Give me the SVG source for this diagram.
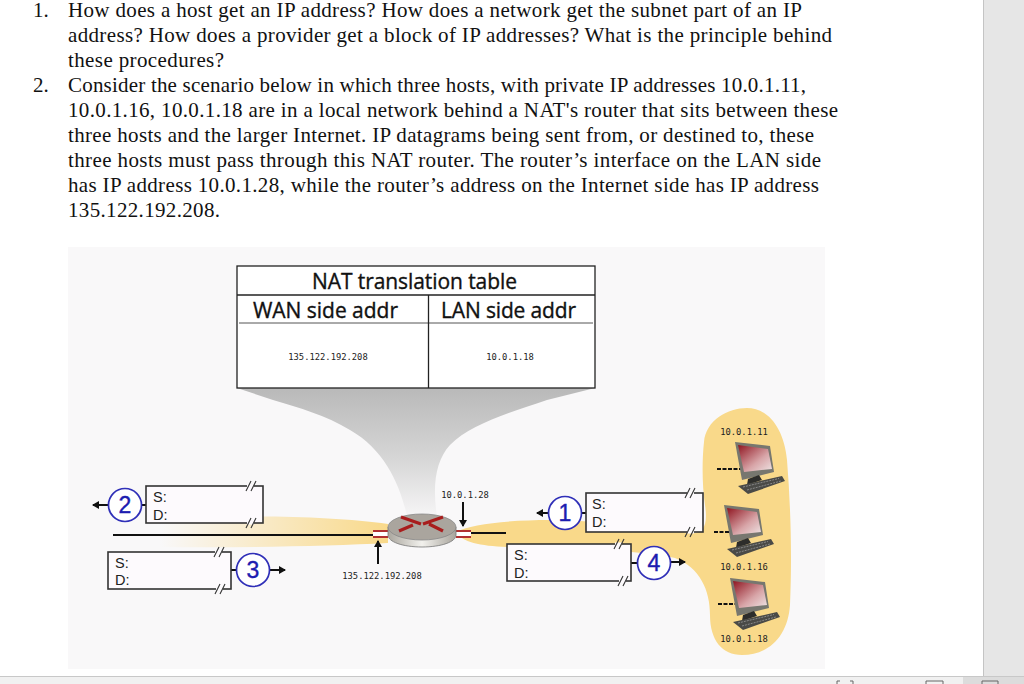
<svg xmlns="http://www.w3.org/2000/svg" width="1024" height="684" viewBox="0 0 1024 684">
<style>
.q{font-family:"Liberation Serif","Times New Roman",serif;font-size:21px;fill:#111}
.t{font-family:"Open Sans","Noto Sans",sans-serif;font-size:21px;fill:#111;stroke:#111;stroke-width:.35}
.m{font-family:"DejaVu Sans Mono","Liberation Mono",monospace;font-size:8.8px;fill:#222;text-anchor:middle}
.f{font-family:"Liberation Sans",Arial,sans-serif;font-size:14.5px;fill:#222}
.n{font-family:"Liberation Sans",Arial,sans-serif;font-size:23px;fill:#1c1cb0;stroke:#1c1cb0;stroke-width:.4;text-anchor:middle}
.box{fill:#fdfafd;stroke:#333;stroke-width:1.6}
.gap{stroke:#fdfafd;stroke-width:3}
.sl{stroke:#333;stroke-width:1.1;fill:none}
.circ{fill:#fff;stroke:#3030b8;stroke-width:1.7}
.ln{stroke:#111;stroke-width:1.8;fill:none}
.ar{stroke:#111;stroke-width:2;fill:none;marker-end:url(#ah)}
.dash{stroke:#111;stroke-width:2;stroke-dasharray:4 1.5}
</style>
<defs>
<marker id="ah" markerUnits="userSpaceOnUse" markerWidth="8" markerHeight="8" refX="6" refY="4" orient="auto"><path d="M0 0L7 4L0 8Z" fill="#111"/></marker>
<linearGradient id="fun" x1="0" y1="0" x2="0" y2="1"><stop offset="0" stop-color="#b9b9b9"/><stop offset=".55" stop-color="#d6d6d6"/><stop offset="1" stop-color="#f6f5f6"/></linearGradient>
<linearGradient id="band" x1="0" y1="0" x2="1" y2="0"><stop offset="0" stop-color="#f9d98a" stop-opacity="0"/><stop offset=".5" stop-color="#f9d98a" stop-opacity=".5"/><stop offset="1" stop-color="#f9d98a"/></linearGradient>
<linearGradient id="scr" x1="0" y1="0" x2="1" y2="1"><stop offset="0" stop-color="#8f1520"/><stop offset=".6" stop-color="#d8a5a8"/><stop offset="1" stop-color="#eee4e4"/></linearGradient>
<linearGradient id="rt" x1="0" y1="0" x2="1" y2="0"><stop offset="0" stop-color="#aaa69e"/><stop offset=".5" stop-color="#f2f1ed"/><stop offset="1" stop-color="#a8a49c"/></linearGradient>
<g id="pc">
<path d="M0 0L35 4L39 30L7 38Z" fill="#77776f"/>
<path d="M3 3L33 7L37 27L9 30Z" fill="url(#scr)"/>
<path d="M13 37L24 33L27 38L12 43Z" fill="#2d2d2b"/>
<path d="M3 44L47 34L50 39L13 52Z" fill="#4a4a47"/>
<path d="M8 45L44 36.500M12 48L46 39" stroke="#888" stroke-width="1" stroke-dasharray="2 1"/>
</g>
</defs>
<rect width="1024" height="684" fill="#fff"/>
<rect x="983" y="0" width="41" height="676" fill="#e6e6e6"/>
<path d="M983.500 0V676" stroke="#c4c4c4"/>
<rect x="0" y="676" width="1024" height="8" fill="#f1f1f1"/>
<path d="M0 676.500H1024" stroke="#c8c8c8"/>
<rect x="963" y="677" width="61" height="7" fill="#dcdcdc"/>
<path d="M837 684V681H840M850 681H853V684M926 684V681H943V684M982 684V681H998V684" stroke="#666" fill="none"/>
<g id="question-text">
<text class="q" x="33" y="17">1.</text>
<text class="q" x="68" y="17" textLength="734" lengthAdjust="spacing">How does a host get an IP address? How does a network get the subnet part of an IP</text>
<text class="q" x="68" y="42" textLength="764" lengthAdjust="spacing">address? How does a provider get a block of IP addresses? What is the principle behind</text>
<text class="q" x="68" y="67" textLength="156" lengthAdjust="spacing">these procedures?</text>
<text class="q" x="33" y="92">2.</text>
<text class="q" x="68" y="92" textLength="738" lengthAdjust="spacing">Consider the scenario below in which three hosts, with private IP addresses 10.0.1.11,</text>
<text class="q" x="68" y="117" textLength="770" lengthAdjust="spacing">10.0.1.16, 10.0.1.18 are in a local network behind a NAT's router that sits between these</text>
<text class="q" x="68" y="142" textLength="746" lengthAdjust="spacing">three hosts and the larger Internet. IP datagrams being sent from, or destined to, these</text>
<text class="q" x="68" y="167" textLength="753" lengthAdjust="spacing">three hosts must pass through this NAT router. The router’s interface on the LAN side</text>
<text class="q" x="68" y="192" textLength="751" lengthAdjust="spacing">has IP address 10.0.1.28, while the router’s address on the Internet side has IP address</text>
<text class="q" x="68" y="217" textLength="152" lengthAdjust="spacing">135.122.192.208.</text>
</g>
<rect x="68" y="247" width="757" height="422" fill="#f9f8f9"/>
<path id="funnel" d="M237 388H595L547 400C505 414 470 425 450 445C436 460 432 485 437 516H407C400 485 385 450 350 430C325 415 300 408 273 400Z" fill="url(#fun)"/>
<path id="band-left" d="M160 520C240 514 330 516 388 524V543C330 546 240 548 160 547Z" fill="url(#band)"/>
<path id="lan-blob" d="M456 532C470 524 510 520 550 520C600 520 660 530 690 533C704 534 708 525 705 505C702 485 702 460 704 442C706 420 728 408 747 408C768 408 784 428 787 460C791 510 792 560 790 605C788 635 770 655 742 655C722 655 710 640 710 615C710 590 700 568 675 558C640 550 560 548 507 547C480 546 462 542 456 532Z" fill="#f9d98a"/>
<g id="connectors">
<path class="ln" d="M113 535H373M471 533H506"/>
<path class="dash" d="M717 469H741M714 532H730M718 604H735"/>
<path class="ar" d="M463 502V526"/>
<path class="ar" d="M378 564V541"/>
<path class="ar" d="M112 505H93"/>
<path class="ar" d="M270 570H285"/>
<path class="ar" d="M549 513H537"/>
<path class="ar" d="M671 562H685"/>
<path class="ln" d="M142 505H146M231 570H236M582 513H586M631 563H637"/>
</g>
<g id="router">
<rect x="373" y="530" width="15" height="8" fill="#b03030"/>
<rect x="373" y="532" width="15" height="4" fill="#fff"/>
<rect x="456" y="530" width="15" height="8" fill="#b03030"/>
<rect x="456" y="532" width="15" height="4" fill="#fff"/>
<path d="M388 527V535C388 542 403 547 422 547C441 547 456 542 456 535V527Z" fill="url(#rt)" stroke="#777" stroke-width=".8"/>
<ellipse cx="422" cy="527" rx="34" ry="13" fill="#aaa59e" stroke="#888" stroke-width=".8"/>
<path d="M401 517L421 524M443 517L423 524M399 531L413 525M443 531L429 524" stroke="#a81d1d" stroke-width="3.200" fill="none"/>
</g>
<g id="nat-table">
<rect x="237" y="266" width="358" height="122" fill="#fff" stroke="#222" stroke-width="1.300"/>
<path d="M237 295H595" stroke="#222" stroke-width="1.300"/>
<path d="M239 323H593" stroke="#555"/>
<path d="M428.500 295V388" stroke="#222" stroke-width="1.300"/>
<text class="t" x="312" y="289" textLength="205">NAT translation table</text>
<text class="t" x="253" y="318" textLength="145">WAN side addr</text>
<text class="t" x="441" y="318" textLength="135">LAN side addr</text>
<text class="m" x="328" y="360">135.122.192.208</text>
<text class="m" x="510" y="360">10.0.1.18</text>
</g>
<g id="labels">
<text class="m" x="465" y="498">10.0.1.28</text>
<text class="m" x="382" y="579">135.122.192.208</text>
<text class="m" x="744" y="435">10.0.1.11</text>
<text class="m" x="744" y="570">10.0.1.16</text>
<text class="m" x="744" y="642">10.0.1.18</text>
</g>
<g id="host-1"><use href="#pc" x="735" y="442"/></g>
<g id="host-2"><use href="#pc" x="724" y="505"/></g>
<g id="host-3"><use href="#pc" x="730" y="578"/></g>
<g id="packet-1">
<rect class="box" x="586" y="493" width="117" height="39"/>
<path class="gap" d="M687 493H694M687 532H694"/>
<path class="sl" d="M685 498L690 488M690 498L695 488M685 537L690 527M690 537L695 527"/>
<text class="f" x="592" y="509">S:</text><text class="f" x="592" y="527">D:</text>
<circle class="circ" cx="565" cy="513" r="16.500"/><text class="n" x="565" y="521">1</text>
</g>
<g id="packet-2">
<rect class="box" x="146" y="486" width="117" height="37"/>
<path class="gap" d="M247 486H254M247 523H254"/>
<path class="sl" d="M246 491L251 481M251 491L256 481M246 528L251 518M251 528L256 518"/>
<text class="f" x="153" y="502">S:</text><text class="f" x="153" y="520">D:</text>
<circle class="circ" cx="125" cy="505" r="16.500"/><text class="n" x="125" y="513">2</text>
</g>
<g id="packet-3">
<rect class="box" x="108" y="552" width="123" height="37"/>
<path class="gap" d="M215 552H222M216 589H223"/>
<path class="sl" d="M214 557L219 547M219 557L224 547M215 594L220 584M220 594L225 584"/>
<text class="f" x="115" y="568">S:</text><text class="f" x="115" y="585">D:</text>
<circle class="circ" cx="253" cy="570" r="16.500"/><text class="n" x="253" y="578">3</text>
</g>
<g id="packet-4">
<rect class="box" x="507" y="544" width="124" height="37"/>
<path class="gap" d="M615 544H622M619 581H626"/>
<path class="sl" d="M614 549L619 539M619 549L624 539M618 586L623 576M623 586L628 576"/>
<text class="f" x="514" y="560">S:</text><text class="f" x="514" y="578">D:</text>
<circle class="circ" cx="654" cy="563" r="16.500"/><text class="n" x="654" y="571">4</text>
</g>
</svg>
